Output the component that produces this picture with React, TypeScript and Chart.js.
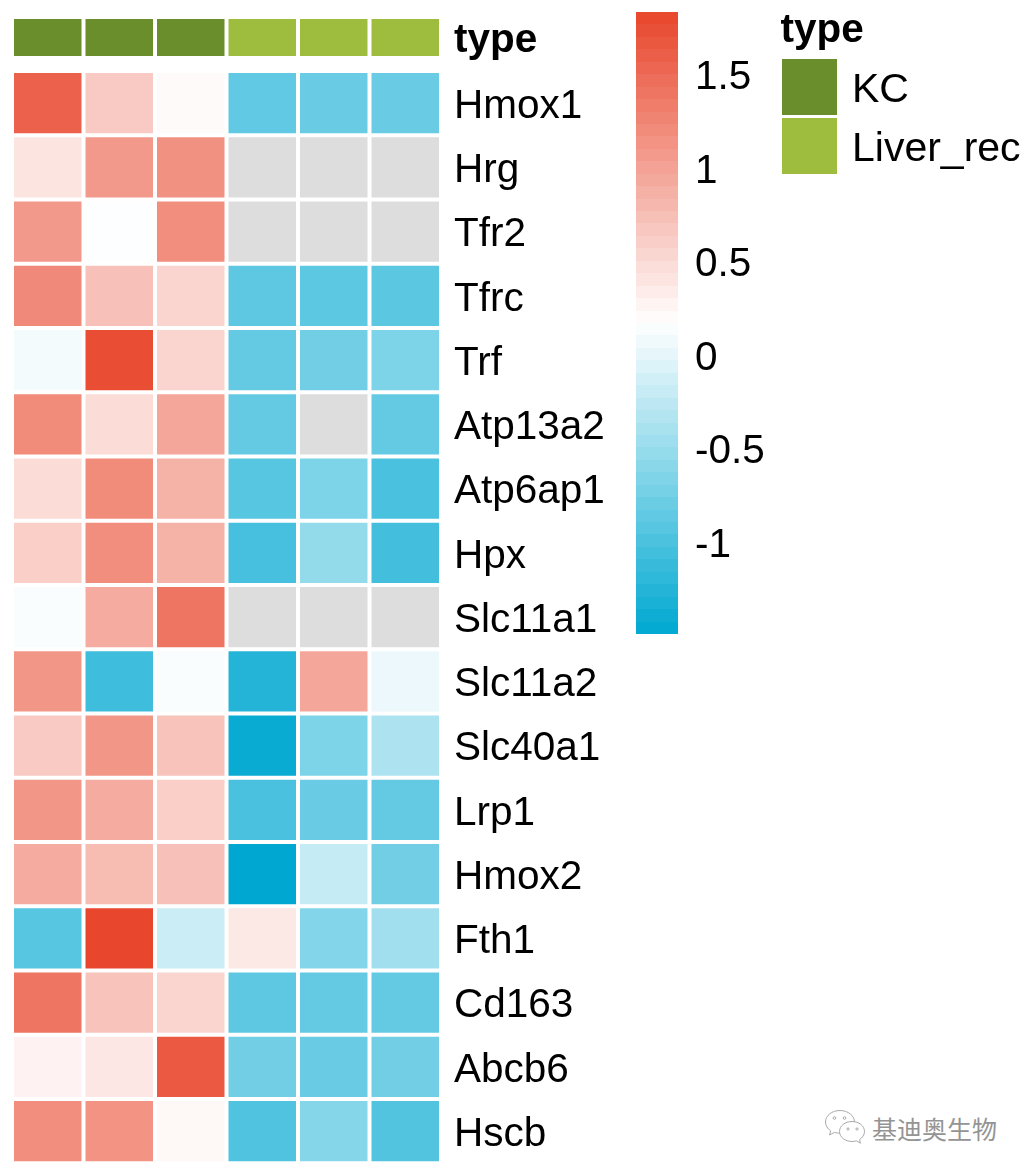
import React, { useEffect, useRef } from "react";
import { Chart, registerables } from "chart.js";

Chart.register(...registerables);

const FONT = "'Liberation Sans', Arial, sans-serif";

const genes = ["Hmox1", "Hrg", "Tfr2", "Tfrc", "Trf", "Atp13a2", "Atp6ap1", "Hpx", "Slc11a1", "Slc11a2", "Slc40a1", "Lrp1", "Hmox2", "Fth1", "Cd163", "Abcb6", "Hscb"];
const samples = ["KC_1", "KC_2", "KC_3", "Liver_rec_1", "Liver_rec_2", "Liver_rec_3"];
const sampleTypes = ["KC", "KC", "KC", "Liver_rec", "Liver_rec", "Liver_rec"];
const typeNames = ["KC", "Liver_rec"];
const typeColors = ["#6B8E2D", "#9EBD3E"];
const annotationTitle = "type";
const colorbarTicks = [-1, -0.5, 0, 0.5, 1, 1.5];
const watermark = "基迪奥生物";

const hmox1 = [1.6, 0.66, 0.23, -0.84, -0.79, -0.79];
const hrg = [0.42, 1.1, 1.17, null, null, null];
const tfr2 = [1.1, 0.17, 1.2, null, null, null];
const tfrc = [1.24, 0.74, 0.56, -0.86, -0.87, -0.88];
const trf = [0.11, 1.78, 0.56, -0.82, -0.74, -0.66];
const atp13a2 = [1.22, 0.5, 0.98, -0.82, null, -0.82];
const atp6ap1 = [0.5, 1.22, 0.88, -0.91, -0.66, -0.99];
const hpx = [0.62, 1.2, 0.88, -1.02, -0.52, -1.04];
const slc11a1 = [0.15, 0.94, 1.42, null, null, null];
const slc11a2 = [1.12, -1.07, 0.15, -1.24, 0.98, 0.06];
const slc40a1 = [0.66, 1.12, 0.72, -1.41, -0.66, -0.35];
const lrp1 = [1.12, 0.94, 0.62, -0.99, -0.79, -0.82];
const hmox2 = [0.94, 0.78, 0.74, -1.49, -0.19, -0.74];
const fth1 = [-0.91, 1.83, -0.15, 0.38, -0.62, -0.42];
const cd163 = [1.42, 0.72, 0.56, -0.86, -0.82, -0.82];
const abcb6 = [0.29, 0.4, 1.67, -0.74, -0.79, -0.74];
const hscb = [1.2, 1.15, 0.25, -0.96, -0.6, -0.94];
const matrix = [hmox1, hrg, tfr2, tfrc, trf, atp13a2, atp6ap1, hpx, slc11a1, slc11a2, slc40a1, lrp1, hmox2, fth1, cd163, abcb6, hscb];

const V_MIN = -1.474;
const V_MAX = 1.852;
const V_MID = 0.186;
const HIGH = [232, 69, 43];
const LOW = [0, 168, 209];
const NA_COLOR = "#DDDDDD";

function colorOf(v: number | null): string {
  if (v === null) return NA_COLOR;
  const end = v >= V_MID ? HIGH : LOW;
  const t = Math.min(1, v >= V_MID ? (v - V_MID) / (V_MAX - V_MID) : (V_MID - v) / (V_MID - V_MIN));
  const c = end.map((e) => Math.round(255 + (e - 255) * t));
  return `rgb(${c[0]},${c[1]},${c[2]})`;
}

function typeColor(name: string): string {
  return typeColors[typeNames.indexOf(name)];
}

const box = (left: number, top: number, width: number, height: number): React.CSSProperties => ({
  position: "absolute",
  left,
  top,
  width,
  height,
  display: "block",
});

const fitTo = (width: number) => (s: any) => {
  s.width = width;
  s.paddingTop = 0;
  s.paddingBottom = 0;
};

export default function App() {
  const heatRef = useRef<HTMLCanvasElement>(null);
  const barRef = useRef<HTMLCanvasElement>(null);
  const legRef = useRef<HTMLCanvasElement>(null);

  useEffect(() => {
    const barCommon = { barPercentage: 1, categoryPercentage: 1, borderSkipped: false as const, grouped: false, inflateAmount: 0 };
    const plugins = { legend: { display: false }, tooltip: { enabled: false } };
    const noGrid = { display: false, drawTicks: false };
    const ANN_TOP = -0.8405;
    const ANN_BOTTOM = -0.2023;
    const LABEL_SHIFT = 0.055;

    const heat = new Chart(heatRef.current!, {
      type: "bar",
      data: {
        labels: samples,
        datasets: [
          {
            label: annotationTitle,
            data: samples.map(() => [ANN_TOP, ANN_BOTTOM]),
            backgroundColor: sampleTypes.map(typeColor),
            borderColor: "#fff",
            borderWidth: 2,
            ...barCommon,
          },
          ...genes.map((g, i) => ({
            label: g,
            data: samples.map(() => [i, i + 1]),
            backgroundColor: matrix[i].map(colorOf),
            borderColor: "#fff",
            borderWidth: 2,
            ...barCommon,
          })),
        ] as any,
      },
      options: {
        responsive: false,
        animation: false,
        layout: { padding: { left: 12, top: 17, bottom: 10.75, right: 0 } },
        plugins,
        scales: {
          x: { type: "category", display: false },
          y: {
            type: "linear",
            position: "right",
            reverse: true,
            min: ANN_TOP,
            max: genes.length,
            grid: noGrid,
            border: { display: false },
            afterBuildTicks: (s: any) => {
              s.ticks = [
                { value: (ANN_TOP + ANN_BOTTOM) / 2 + LABEL_SHIFT },
                ...genes.map((_, i) => ({ value: i + 0.5 + LABEL_SHIFT })),
              ];
            },
            afterFit: fitTo(199),
            ticks: {
              autoSkip: false,
              padding: 13,
              color: "#000",
              font: (c: any) => ({ family: FONT, size: 40.5, weight: c.index === 0 ? "bold" : "normal" }),
              callback: (_: any, i: number) => (i === 0 ? annotationTitle : genes[i - 1]),
            },
          },
        },
      } as any,
    });

    const bar = new Chart(barRef.current!, {
      type: "bar",
      data: {
        labels: ["scale"],
        datasets: [
          {
            data: [[V_MIN, V_MAX]],
            backgroundColor: (c: any) => {
              const area = c.chart.chartArea;
              if (!area) return "#fff";
              const g = c.chart.ctx.createLinearGradient(0, area.top, 0, area.bottom);
              const bands = 50;
              for (let b = 0; b < bands; b++) {
                const col = colorOf(V_MAX - ((b + 0.5) / bands) * (V_MAX - V_MIN));
                g.addColorStop(b / bands, col);
                g.addColorStop((b + 1) / bands, col);
              }
              return g;
            },
            borderWidth: 0,
            ...barCommon,
          },
        ] as any,
      },
      options: {
        responsive: false,
        animation: false,
        layout: { padding: { left: 16, top: 12, bottom: 16, right: 0 } },
        plugins,
        scales: {
          x: { type: "category", display: false },
          y: {
            type: "linear",
            position: "right",
            min: V_MIN,
            max: V_MAX,
            grid: noGrid,
            border: { display: false },
            afterBuildTicks: (s: any) => {
              s.ticks = colorbarTicks.map((value) => ({ value }));
            },
            afterFit: fitTo(152),
            ticks: {
              autoSkip: false,
              padding: 17,
              color: "#000",
              font: { family: FONT, size: 40.5 },
              callback: (v: any) => String(v),
            },
          },
        },
      } as any,
    });

    const legend = new Chart(legRef.current!, {
      type: "bar",
      data: {
        labels: [annotationTitle],
        datasets: typeNames.map((n, i) => ({
          label: n,
          data: [[i, i + 1]],
          backgroundColor: typeColors[i],
          borderColor: "#fff",
          borderWidth: 1.5,
          ...barCommon,
        })) as any,
      },
      options: {
        responsive: false,
        animation: false,
        layout: { padding: { left: 0.5, top: 0, bottom: 14.5, right: 0 } },
        plugins: {
          ...plugins,
          title: {
            display: true,
            text: annotationTitle,
            align: "start",
            color: "#000",
            font: { family: FONT, size: 40.5, weight: "bold", lineHeight: 1 },
            padding: { top: 11, bottom: 6 },
          },
        },
        scales: {
          x: { type: "category", display: false },
          y: {
            type: "linear",
            position: "right",
            reverse: true,
            min: 0,
            max: typeNames.length,
            grid: noGrid,
            border: { display: false },
            afterBuildTicks: (s: any) => {
              s.ticks = typeNames.map((_, i) => ({ value: i + 0.5 + LABEL_SHIFT }));
            },
            afterFit: fitTo(191.5),
            ticks: {
              autoSkip: false,
              padding: 13.5,
              color: "#000",
              font: { family: FONT, size: 41 },
              callback: (_: any, i: number) => typeNames[i],
            },
          },
        },
      } as any,
    });

    return () => {
      heat.destroy();
      bar.destroy();
      legend.destroy();
    };
  }, []);

  return (
    <div style={{ position: "absolute", left: 0, top: 0, width: 1030, height: 1174, overflow: "hidden", background: "#fff" }}>
      <canvas ref={heatRef} width={640} height={1174} style={box(0, 0, 640, 1174)} />
      <canvas ref={barRef} width={210} height={650} style={box(620, 0, 210, 650)} />
      <canvas ref={legRef} width={250} height={190} style={box(780, 0, 250, 190)} />
      <svg style={box(824, 1109, 42, 37)} viewBox="0 0 42 37" fill="#fff" stroke="#aaa" strokeWidth="1">
        <path d="M16 1.5C8 1.5 1.5 6.5 1.5 13c0 3.7 2 6.7 5.2 8.9L5.5 26l5-2.6c1.8.5 3.6.8 5.5.8 8 0 14.5-5 14.5-11.2S24 1.5 16 1.5z" />
        <path d="M28 12.5c-7 0-12.5 4.5-12.5 10S21 32.5 28 32.5c1.5 0 3-.2 4.3-.7l4.2 2.4-1-3.6c3-1.9 5-4.8 5-8.1 0-5.500-5.500-10-12.500-10z" />
        <circle cx="10.500" cy="9" r="1.300" />
        <circle cx="20.500" cy="9" r="1.300" />
        <circle cx="24" cy="20" r="1.100" />
        <circle cx="33" cy="20" r="1.100" />
      </svg>
      <div
        style={{
          position: "absolute",
          left: 872,
          top: 1111,
          fontFamily: "'Noto Sans CJK SC', sans-serif",
          fontSize: 25,
          lineHeight: "34px",
          color: "#949494",
          whiteSpace: "nowrap",
        }}
      >
        {watermark}
      </div>
    </div>
  );
}
